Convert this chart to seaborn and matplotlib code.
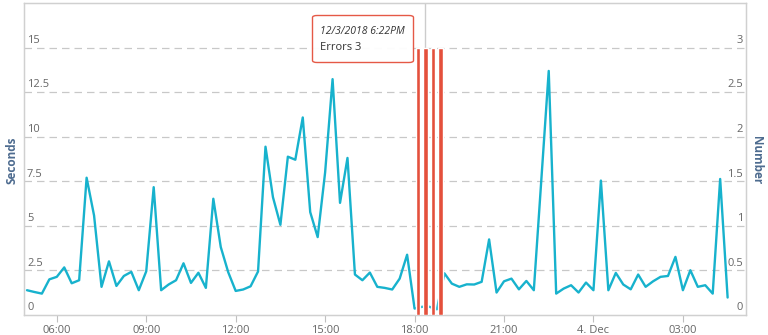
import numpy as np
import pandas as pd
import matplotlib
matplotlib.use("Agg")
import matplotlib.pyplot as plt
import matplotlib.dates as mdates
import matplotlib.transforms as mtrans
from matplotlib.patches import FancyBboxPatch
import seaborn as sns

# ---- data ----
start_time = "2018-12-03 05:00"
interval = "15min"
seconds = [1.39, 1.29, 1.20, 2.00, 2.14, 2.67, 1.78, 1.95, 7.70, 5.58,
           1.58, 3.01, 1.63, 2.19, 2.42, 1.39, 2.45, 7.17, 1.39, 1.71,
           1.95, 2.90, 1.80, 2.37, 1.52, 6.52, 3.81, 2.40, 1.35, 1.43,
           1.61, 2.44, 9.44, 6.61, 5.06, 8.88, 8.71, 11.08, 5.77, 4.37,
           8.00, 13.23, 6.29, 8.81, 2.27, 1.95, 2.38, 1.58, 1.52, 1.43,
           2.04, 3.38, 0.36, 0.46, 0.46, 0.32, 2.34, 1.76, 1.58, 1.72,
           1.71, 1.86, 4.24, 1.26, 1.89, 2.04, 1.44, 1.91, 1.39, 7.54,
           13.69, 1.20, 1.48, 1.67, 1.26, 1.82, 1.39, 7.54, 1.39, 2.36,
           1.71, 1.44, 2.27, 1.58, 1.89, 2.14, 2.19, 3.26, 1.39, 2.51,
           1.58, 1.67, 1.20, 7.63, 0.98]
error_times = ["2018-12-03 18:07", "2018-12-03 18:22", "2018-12-03 18:37", "2018-12-03 18:52"]
error_counts = [3, 3, 3, 3]
left_ticks = [0, 2.5, 5, 7.5, 10, 12.5, 15]
left_labels = ["0", "2.5", "5", "7.5", "10", "12.5", "15"]
right_ticks = [0, 0.5, 1, 1.5, 2, 2.5, 3]
right_labels = ["0", "0.5", "1", "1.5", "2", "2.5", "3"]
tooltip_time = "12/3/2018 6:22PM"
tooltip_text = "Errors 3"
hover_time = "2018-12-03 18:22"

df = pd.DataFrame({"time": pd.date_range(start_time, periods=len(seconds), freq=interval),
                   "seconds": seconds})
err = pd.DataFrame({"time": pd.to_datetime(error_times), "count": error_counts})

sns.set_style("white")
plt.rcParams["font.family"] = ["Open Sans", "DejaVu Sans"]

fig = plt.figure(figsize=(7.68, 3.35), dpi=100)
ax = fig.add_axes([24/768, 1-315/335, (746-24)/768, (315-3)/335])
ax2 = ax.twinx()

LINE = "#17b2cd"
GRID = "#c8c8c8"
TXT = "#666666"
TITLE = "#4d6b8f"

sns.lineplot(data=df, x="time", y="seconds", ax=ax, color=LINE, linewidth=1.7)

ax.set_xlim(pd.Timestamp("2018-12-03 04:54"), pd.Timestamp("2018-12-04 05:07"))
ax.set_ylim(0, 17.5)
ax2.set_ylim(0, 3.5)

# grid
for v in left_ticks[1:]:
    ax.axhline(v, color=GRID, linestyle=(0, (6, 4)), linewidth=0.9, zorder=0)

# error bars on right axis
ax2.bar(err["time"], err["count"], width=pd.Timedelta(minutes=8.5),
        color="#e4503c", zorder=3)

# crosshair
ax.axvline(pd.Timestamp(hover_time), color="#cccccc", linewidth=1, zorder=1)

ax.set_yticks([])
ax2.set_yticks([])
ax.set_ylabel("")
ax.set_xlabel("")

# y tick labels inside the plot
tl = mtrans.blended_transform_factory(ax.transAxes, ax.transData)
for v, s in zip(left_ticks, left_labels):
    ax.text(3/722, v + 0.1, s, transform=tl, ha="left", va="bottom",
            fontsize=8, color=TXT)
tr = mtrans.blended_transform_factory(ax2.transAxes, ax2.transData)
for v, s in zip(right_ticks, right_labels):
    ax2.text(1 - 3/722, v + 0.02, s, transform=tr, ha="right", va="bottom",
             fontsize=8, color=TXT)

# x axis
ax.xaxis.set_major_locator(mdates.HourLocator(byhour=range(0, 24, 3)))
def fmt(x, pos):
    d = mdates.num2date(x)
    if d.hour == 0:
        return f"{d.day}. Dec"
    return d.strftime("%H:%M")
ax.xaxis.set_major_formatter(plt.FuncFormatter(fmt))
ax.tick_params(axis="x", bottom=True, length=5, width=0.8, color="#c0c0c0",
               labelsize=8, labelcolor=TXT, pad=2)
ax2.tick_params(axis="x", bottom=False)

for a in (ax, ax2):
    for sp in a.spines.values():
        sp.set_color("#d0d0d0")
        sp.set_linewidth(0.9)
        sp.set_visible(True)

fig.text(12/768, 1-160/335, "Seconds", rotation=90, ha="center", va="center",
         fontsize=8.5, color=TITLE, fontweight="bold")
fig.text(757/768, 1-160/335, "Number", rotation=270, ha="center", va="center",
         fontsize=8.5, color=TITLE, fontweight="bold")

# tooltip
box = FancyBboxPatch((312.5/768, 1-62.5/335), 101/768, 47/335,
                     boxstyle="round,pad=0,rounding_size=0.006",
                     transform=fig.transFigure, facecolor="white",
                     edgecolor="#e4503c", linewidth=1, alpha=0.95, zorder=10)
fig.patches.append(box)
fig.text(320/768, 1-32/335, tooltip_time, ha="left", va="center", fontsize=7.5,
         style="italic", color="#333333", zorder=11)
fig.text(320/768, 1-48/335, tooltip_text, ha="left", va="center", fontsize=8,
         color="#333333", zorder=11)

fig.savefig("out.png", dpi=100)
